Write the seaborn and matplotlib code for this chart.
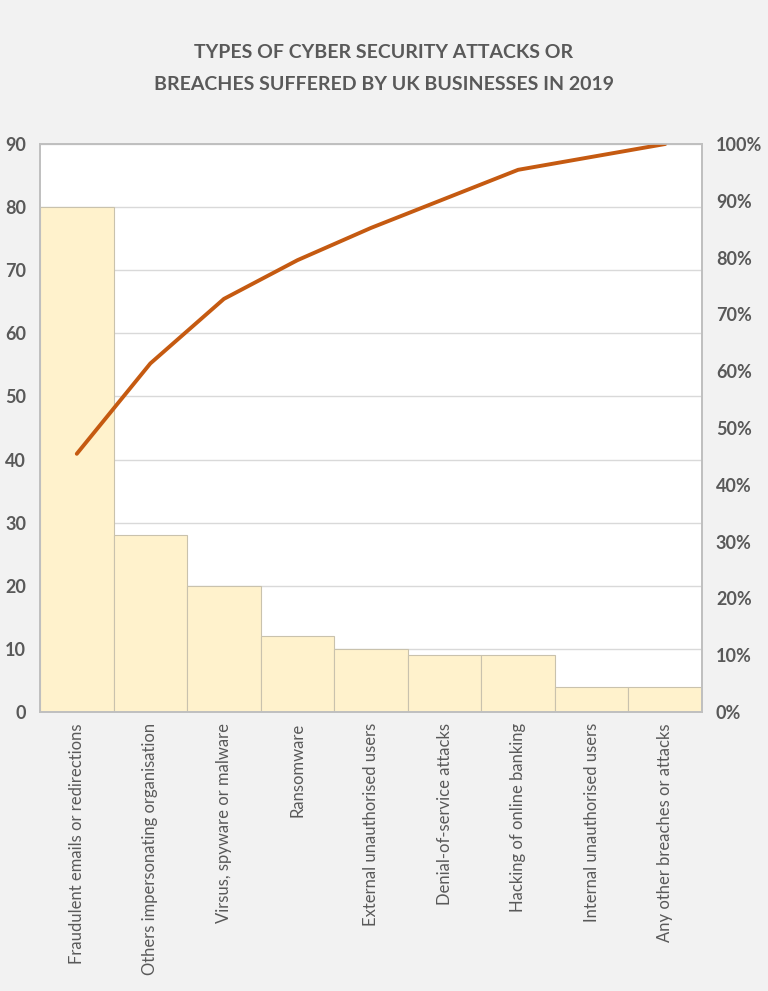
import numpy as np
import pandas as pd
import seaborn as sns
import matplotlib.pyplot as plt
from matplotlib.ticker import PercentFormatter

# categories and counts
attack_types = ['Fraudulent emails or redirections', 'Others impersonating organisation',
                'Virsus, spyware or malware', 'Ransomware', 'External unauthorised users',
                'Denial-of-service attacks', 'Hacking of online banking',
                'Internal unauthorised users', 'Any other breaches or attacks']
counts = [80, 28, 20, 12, 10, 9, 9, 4, 4]

df = pd.DataFrame({'type': attack_types, 'count': counts})
# cumulative share for the pareto line
df['cum_pct'] = df['count'].cumsum() / df['count'].sum()

sns.set_theme(style='white')
plt.rcParams['font.family'] = ['Lato', 'DejaVu Sans']

grey = '#595959'
fig = plt.figure(figsize=(7.68, 9.91), dpi=100, facecolor='#f2f2f2')
ax = fig.add_axes([40 / 768, 1 - 712 / 991, 662 / 768, 568 / 991])
ax.set_facecolor('white')

sns.barplot(data=df, x='type', y='count', color='#fff2cc', saturation=1, width=1,
            edgecolor='#c9c2ad', linewidth=0.8, ax=ax, zorder=2)
ax.set_ylim(0, 90)
ax.set_xlim(-0.5, len(df) - 0.5)
ax.set_yticks(range(0, 91, 10))
ax.yaxis.grid(True, color='#d9d9d9', linewidth=1, zorder=0)
ax.set_axisbelow(True)
ax.set_xlabel('')
ax.set_ylabel('')
ax.tick_params(axis='y', length=0, pad=10, labelsize=13, labelcolor=grey)
ax.tick_params(axis='x', length=0, pad=8, labelsize=12, labelcolor=grey)
for lab in ax.get_yticklabels():
    lab.set_fontweight('bold')
ax.set_xticks(range(len(df)))
ax.set_xticklabels(df['type'], rotation=90, va='top', ha='center')

ax2 = ax.twinx()
sns.lineplot(x=np.arange(len(df)), y=df['cum_pct'].values, color='#c55a11', linewidth=2.8, ax=ax2)
ax2.set_ylim(0, 1)
ax2.set_yticks(np.arange(0, 1.01, 0.1))
ax2.yaxis.set_major_formatter(PercentFormatter(1.0, decimals=0))
ax2.tick_params(axis='y', length=0, pad=10, labelsize=13, labelcolor=grey)
for lab in ax2.get_yticklabels():
    lab.set_fontweight('bold')

for a in (ax, ax2):
    for s in a.spines.values():
        s.set_color('#bfbfbf')
        s.set_linewidth(1.2)

fig.text(0.5, 1 - 53 / 991, 'TYPES OF CYBER SECURITY ATTACKS OR', ha='center', va='center',
         fontsize=14, fontweight='bold', color=grey)
fig.text(0.5, 1 - 84 / 991, 'BREACHES SUFFERED BY UK BUSINESSES IN 2019', ha='center', va='center',
         fontsize=14, fontweight='bold', color=grey)

fig.savefig('out.png', dpi=100, facecolor=fig.get_facecolor())
